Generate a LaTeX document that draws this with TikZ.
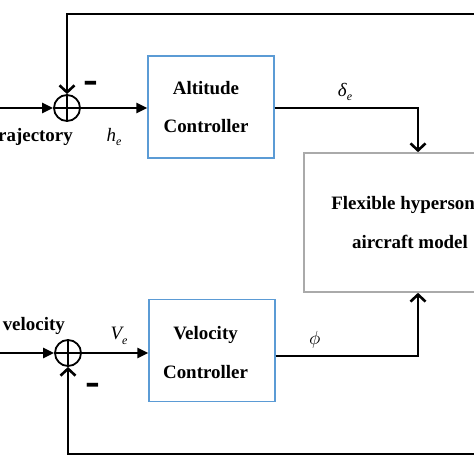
\documentclass[tikz,border=0pt]{standalone}
\usepackage{fontspec}
\usepackage{unicode-math}
\setmainfont{Liberation Serif}
\newfontfamily\minusfont{Liberation Sans}
\usetikzlibrary{arrows.meta,calc}
\definecolor{ctrlblue}{RGB}{91,155,213}
\definecolor{plantgray}{RGB}{170,170,170}
\newcommand\mysub[1]{\raisebox{-4.5bp}{\fontsize{12}{12}\selectfont #1}}
\tikzset{
  ctrlbox/.style={draw=ctrlblue,line width=1.4bp,minimum width=126bp,minimum height=102bp,inner sep=0pt},
  boxtext/.style={inner sep=0pt,align=center,font=\bfseries\fontsize{19}{39}\selectfont},
  plantbox/.style={draw=plantgray,line width=1.6bp,minimum width=212bp,minimum height=139bp,inner sep=0pt,align=center,
    font=\bfseries\fontsize{19}{40}\selectfont},
  sumc/.style={draw,circle,line width=1.8bp,minimum size=26bp,inner sep=0pt},
  sig/.style={draw,line width=2.6bp},
  fill tip/.style={-{Triangle[length=11bp,width=10bp]}},
  open tip/.style={-{Straight Barb[length=7bp,width=15bp,line width=2.6bp]}},
  lbl/.style={inner sep=0pt,font=\bfseries\fontsize{19}{23}\selectfont},
  mlbl/.style={inner sep=0pt,font=\itshape\fontsize{19}{23}\selectfont},
  minus/.style={inner sep=0pt,anchor=base,font=\minusfont\bfseries\fontsize{32}{32}\selectfont},
}
\begin{document}
\begin{tikzpicture}[x=1bp,y=-1bp]
\useasboundingbox (0,0) rectangle (474,474);
\clip (0,0) rectangle (474,474);
\fill[white] (0,0) rectangle (474,474);
% blocks
\node[ctrlbox] (alt) at (211,107) {};
\node[boxtext] (altT) at (206,107) {Altitude\\Controller};
\node[ctrlbox] (vel) at (212,350.5) {};
\node[boxtext] (velT) at (205.5,352.5) {Velocity\\Controller};
\node[plantbox] (plant) at (410,222.5) {Flexible hypersonic\\aircraft model};
\node[sumc] (s1) at (67,108) {};
\node[sumc] (s2) at (68,353) {};
\draw[line width=1.8bp] (s1.north) -- (s1.south) (s1.west) -- (s1.east);
\draw[line width=1.8bp] (s2.north) -- (s2.south) (s2.west) -- (s2.east);
% coordinates
\coordinate (in1) at (-5,108);
\coordinate (in2) at (-5,353);
\coordinate (topR) at (480,14);
\coordinate (botR) at (480,454);
\coordinate (dcor) at (418,108);
\coordinate (pcor) at (418,356);
% connectors
\draw[sig,fill tip] (in1) -- (s1.west);
\draw[sig,fill tip] (s1.east) -- (s1.east -| alt.west);
\draw[sig,open tip] (alt.east |- dcor) -- (dcor) -- (dcor |- plant.north);
\draw[sig,open tip] (topR) -- (topR -| s1) -- (s1.north);
\draw[sig,fill tip] (in2) -- (s2.west);
\draw[sig,fill tip] (s2.east) -- (s2.east -| vel.west);
\draw[sig,open tip] (vel.east |- pcor) -- (pcor) -- (pcor |- plant.south);
\draw[sig,open tip] (botR) -- (botR -| s2) -- (s2.south);
% labels
\node[lbl,anchor=east] (traj) at (73,137) {trajectory};
\node[lbl,anchor=east] (velo) at (65,326) {velocity};
\node[mlbl] (he) at (114,137) {h\mysub{e}};
\node[mlbl] (ve) at (119,336) {V\mysub{e}};
\node[mlbl] (de) at (345,92) {δ\mysub{e}};
\node[mlbl] (ph) at (315.5,340) {$\phi$};
\node[minus] (m1) at (90.5,92) {\scalebox{1.4}[1]{-}};
\node[minus] (m2) at (92.5,393) {\scalebox{1.4}[1]{-}};
\end{tikzpicture}
\end{document}
